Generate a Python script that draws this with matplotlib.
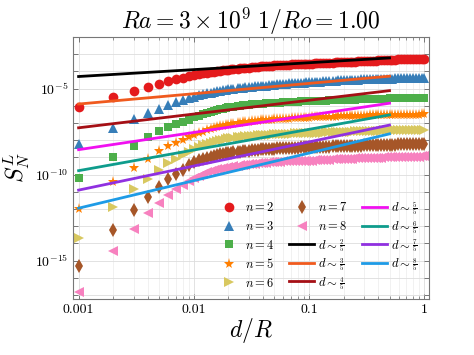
import numpy as np
import matplotlib
matplotlib.use("Agg")
import matplotlib.pyplot as plt
from matplotlib.ticker import FixedLocator, FixedFormatter, NullFormatter

plt.rcParams['mathtext.fontset'] = 'cm'
plt.rcParams['font.family'] = ['cmr10', 'DejaVu Serif']
plt.rcParams['axes.unicode_minus'] = False

# separation d (units of 1e-3 R)
d_grid = [1, 2, 3, 4, 5, 6, 7, 8, 9, 10, 11, 12, 13, 14, 15, 16, 17, 18, 19, 20,
          21, 22, 24, 25, 27, 28, 30, 32, 34, 36, 38, 40, 42, 45, 48, 50, 53, 56, 60, 63,
          67, 71, 75, 80, 85, 90, 95, 100, 106, 112, 118, 125, 132, 140, 150, 160, 170, 180, 190, 200,
          212, 225, 237, 250, 265, 280, 300, 320, 340, 360, 380, 400, 425, 450, 475, 500, 530, 560, 595, 630,
          670, 710, 755, 800, 850, 900, 950, 1000]

# log10 of S_N^L for each order n
logS_n2 = [-6.09, -5.47, -5.12, -4.92, -4.72, -4.57, -4.45, -4.36, -4.29, -4.22, -4.17, -4.12, -4.08, -4.05, -4.02, -3.99, -3.96, -3.94, -3.92, -3.90,
           -3.88, -3.87, -3.84, -3.83, -3.81, -3.80, -3.78, -3.76, -3.74, -3.73, -3.71, -3.70, -3.69, -3.68, -3.67, -3.66, -3.65, -3.64, -3.63, -3.62,
           -3.61, -3.60, -3.59, -3.58, -3.57, -3.57, -3.56, -3.56, -3.55, -3.54, -3.54, -3.53, -3.52, -3.51, -3.50, -3.49, -3.48, -3.47, -3.47, -3.46,
           -3.45, -3.44, -3.44, -3.43, -3.42, -3.41, -3.40, -3.39, -3.38, -3.37, -3.37, -3.36, -3.35, -3.34, -3.34, -3.33, -3.33, -3.32, -3.31, -3.30,
           -3.30, -3.29, -3.29, -3.28, -3.28, -3.27, -3.27, -3.26]
logS_n3 = [-8.22, -7.28, -6.78, -6.43, -6.18, -5.95, -5.79, -5.66, -5.56, -5.47, -5.40, -5.33, -5.28, -5.23, -5.19, -5.15, -5.12, -5.09, -5.06, -5.04,
           -5.02, -5.00, -4.97, -4.96, -4.94, -4.93, -4.91, -4.90, -4.88, -4.87, -4.85, -4.84, -4.83, -4.81, -4.79, -4.78, -4.76, -4.75, -4.73, -4.72,
           -4.70, -4.69, -4.68, -4.67, -4.66, -4.65, -4.64, -4.63, -4.62, -4.61, -4.60, -4.59, -4.58, -4.57, -4.56, -4.55, -4.54, -4.53, -4.53, -4.52,
           -4.51, -4.50, -4.50, -4.49, -4.48, -4.47, -4.47, -4.46, -4.46, -4.45, -4.45, -4.44, -4.44, -4.43, -4.43, -4.42, -4.42, -4.41, -4.41, -4.40,
           -4.40, -4.39, -4.39, -4.39, -4.38, -4.38, -4.38, -4.38]
logS_n4 = [-10.20, -8.95, -8.32, -7.83, -7.49, -7.25, -7.05, -6.92, -6.80, -6.68, -6.59, -6.50, -6.43, -6.36, -6.30, -6.25, -6.21, -6.17, -6.13, -6.10,
           -6.07, -6.05, -6.02, -6.00, -5.98, -5.96, -5.94, -5.92, -5.90, -5.89, -5.88, -5.87, -5.86, -5.85, -5.84, -5.83, -5.82, -5.81, -5.80, -5.79,
           -5.78, -5.77, -5.77, -5.76, -5.75, -5.75, -5.74, -5.74, -5.73, -5.72, -5.72, -5.71, -5.70, -5.70, -5.69, -5.68, -5.68, -5.67, -5.66, -5.66,
           -5.65, -5.65, -5.64, -5.64, -5.63, -5.63, -5.62, -5.61, -5.61, -5.60, -5.60, -5.59, -5.59, -5.58, -5.58, -5.57, -5.57, -5.57, -5.56, -5.56,
           -5.55, -5.55, -5.55, -5.55, -5.54, -5.54, -5.54, -5.54]
logS_n5 = [-12.00, -10.45, -9.64, -9.09, -8.62, -8.36, -8.14, -7.97, -7.83, -7.70, -7.60, -7.50, -7.43, -7.36, -7.30, -7.25, -7.20, -7.16, -7.12, -7.09,
           -7.06, -7.04, -7.00, -6.98, -6.96, -6.94, -6.92, -6.90, -6.88, -6.87, -6.85, -6.84, -6.83, -6.81, -6.80, -6.79, -6.78, -6.77, -6.76, -6.75,
           -6.74, -6.73, -6.72, -6.71, -6.70, -6.70, -6.69, -6.69, -6.68, -6.67, -6.67, -6.66, -6.65, -6.65, -6.64, -6.63, -6.63, -6.62, -6.62, -6.61,
           -6.60, -6.60, -6.59, -6.59, -6.58, -6.58, -6.57, -6.57, -6.56, -6.56, -6.55, -6.55, -6.55, -6.54, -6.54, -6.54, -6.53, -6.53, -6.53, -6.52,
           -6.52, -6.52, -6.51, -6.51, -6.51, -6.51, -6.50, -6.50]
logS_n6 = [-13.68, -11.86, -10.81, -10.26, -9.74, -9.35, -9.08, -8.86, -8.68, -8.53, -8.41, -8.30, -8.22, -8.14, -8.08, -8.03, -7.99, -7.96, -7.93, -7.90,
           -7.88, -7.86, -7.83, -7.82, -7.80, -7.78, -7.77, -7.75, -7.73, -7.72, -7.71, -7.70, -7.69, -7.68, -7.67, -7.66, -7.66, -7.65, -7.64, -7.63,
           -7.63, -7.62, -7.61, -7.60, -7.60, -7.59, -7.59, -7.58, -7.58, -7.57, -7.57, -7.56, -7.56, -7.55, -7.54, -7.53, -7.53, -7.52, -7.52, -7.51,
           -7.51, -7.50, -7.50, -7.49, -7.49, -7.48, -7.47, -7.46, -7.46, -7.45, -7.45, -7.44, -7.44, -7.43, -7.43, -7.42, -7.42, -7.41, -7.41, -7.40,
           -7.40, -7.40, -7.39, -7.39, -7.39, -7.38, -7.38, -7.38]
logS_n7 = [-15.31, -13.20, -12.05, -11.32, -10.73, -10.27, -9.96, -9.71, -9.45, -9.28, -9.17, -9.08, -9.01, -8.95, -8.90, -8.86, -8.83, -8.80, -8.77, -8.75,
           -8.73, -8.71, -8.68, -8.67, -8.65, -8.63, -8.61, -8.59, -8.57, -8.56, -8.54, -8.53, -8.52, -8.51, -8.50, -8.49, -8.48, -8.47, -8.46, -8.46,
           -8.45, -8.44, -8.44, -8.43, -8.42, -8.42, -8.41, -8.41, -8.40, -8.40, -8.39, -8.39, -8.38, -8.38, -8.37, -8.36, -8.36, -8.35, -8.35, -8.34,
           -8.33, -8.33, -8.32, -8.32, -8.31, -8.31, -8.30, -8.29, -8.29, -8.28, -8.28, -8.27, -8.27, -8.26, -8.26, -8.25, -8.25, -8.25, -8.24, -8.24,
           -8.23, -8.23, -8.23, -8.23, -8.22, -8.22, -8.22, -8.22]
logS_n8 = [-16.80, -14.42, -13.16, -12.25, -11.64, -11.20, -10.85, -10.58, -10.36, -10.18, -10.06, -9.95, -9.87, -9.80, -9.75, -9.70, -9.66, -9.62, -9.59, -9.56,
           -9.53, -9.51, -9.48, -9.47, -9.45, -9.43, -9.41, -9.38, -9.36, -9.34, -9.32, -9.31, -9.30, -9.28, -9.27, -9.26, -9.25, -9.24, -9.23, -9.22,
           -9.22, -9.21, -9.21, -9.20, -9.20, -9.19, -9.19, -9.18, -9.18, -9.17, -9.16, -9.15, -9.15, -9.14, -9.13, -9.12, -9.11, -9.10, -9.10, -9.09,
           -9.08, -9.07, -9.07, -9.06, -9.06, -9.05, -9.04, -9.03, -9.03, -9.02, -9.02, -9.01, -9.01, -9.00, -9.00, -8.99, -8.99, -8.98, -8.98, -8.97,
           -8.97, -8.96, -8.96, -8.95, -8.95, -8.95, -8.94, -8.94]

orders = [2, 3, 4, 5, 6, 7, 8]
series = [logS_n2, logS_n3, logS_n4, logS_n5, logS_n6, logS_n7, logS_n8]

# power-law reference lines d^(n/5): log10 value at d=0.001, drawn up to d=0.5
line_num = [2, 3, 4, 5, 6, 7, 8]
line_logstart = [-4.30, -5.90, -7.28, -8.55, -9.77, -10.90, -11.95]
line_drange = [0.001, 0.5]

marker_styles = ['o', '^', 's', '*', '>', 'd', '<']
marker_sizes = [7, 7.5, 6, 8, 7.5, 7.5, 7.5]
marker_colors = ['#e41a1c', '#377eb8', '#4daf4a', '#ff7f00', '#d8c860', '#a65628', '#f781bf']
line_colors = ['#000000', '#f05a1e', '#a50f15', '#f010f0', '#0e9c8c', '#9030e0', '#1e9be6']

fig = plt.figure(figsize=(4.74, 3.55), dpi=100)
ax = fig.add_axes([0.1547, 0.159, 0.7503, 0.737])

d = np.array(d_grid) * 1e-3
handles = []
for n, ls, mk, ms, c in zip(orders, series, marker_styles, marker_sizes, marker_colors):
    h, = ax.plot(d, 10.0 ** np.array(ls), linestyle='none', marker=mk, ms=ms,
                 color=c, mec=c, mew=0, label=r'$n=%d$' % n, zorder=2)
    handles.append(h)

xl = np.geomspace(line_drange[0], line_drange[1], 50)
for num, y0, c in zip(line_num, line_logstart, line_colors):
    p = num / 5.0
    yl = 10.0 ** y0 * (xl / line_drange[0]) ** p
    h, = ax.plot(xl, yl, color=c, lw=2.0, label=r'$d\sim$', zorder=3)
    handles.append(h)

ax.set_xscale('log')
ax.set_yscale('log')
ax.set_xlim(0.0009, 1.1)
ax.set_ylim(10 ** -17.2, 1e-2)

xt = [0.001, 0.01, 0.1, 1]
ax.xaxis.set_major_locator(FixedLocator(xt))
ax.xaxis.set_major_formatter(FixedFormatter(['0.001', '0.01', '0.1', '1']))
xminor = [m * 10.0 ** e for e in range(-4, 1) for m in range(2, 10)]
ax.xaxis.set_minor_locator(FixedLocator(xminor))
ax.xaxis.set_minor_formatter(NullFormatter())

yt = [10.0 ** e for e in range(-17, -1)]
ylab = [(r'$10^{%d}$' % e) if e in (-5, -10, -15) else '' for e in range(-17, -1)]
ax.yaxis.set_major_locator(FixedLocator(yt))
ax.yaxis.set_major_formatter(FixedFormatter(ylab))
ax.yaxis.set_minor_locator(FixedLocator([]))

ax.tick_params(which='both', direction='in', top=True, right=True, colors='#666666',
               labelcolor='black', labelsize=10)
ax.tick_params(which='major', length=3.5, width=0.6)
ax.tick_params(which='minor', length=2, width=0.5)
ax.grid(True, which='major', color='#dddddd', lw=0.6)
ax.grid(True, which='minor', axis='x', color='#ececec', lw=0.5)
ax.set_axisbelow(True)
for s in ax.spines.values():
    s.set_color('#777777')
    s.set_linewidth(0.8)

ax.set_title(r'$Ra = 3\times 10^{9}\ 1/Ro = 1.00$', fontsize=17, pad=6)
ax.set_xlabel(r'$d/R$', fontsize=17, labelpad=0)
ax.set_ylabel(r'$S_N^{L}$', fontsize=17, labelpad=2)

leg = ax.legend(handles=handles, loc='lower right', bbox_to_anchor=(0.973, 0.0), ncol=3,
                frameon=False, fontsize=9, handlelength=2.0, columnspacing=1.15,
                handletextpad=0.3, labelspacing=0.45, borderaxespad=0.3)

# small stacked fractions following each "d ~" label
fig.canvas.draw()
renderer = fig.canvas.get_renderer()
W, H = fig.bbox.width, fig.bbox.height
for t, num in zip(leg.get_texts()[len(orders):], line_num):
    bb = t.get_window_extent(renderer)
    fig.text((bb.x1 + 1.5) / W, ((bb.y0 + bb.y1) / 2 - 1.5) / H, r'$\frac{%d}{5}$' % num,
             fontsize=7, ha='left', va='center')

fig.savefig('out.png', dpi=100)
